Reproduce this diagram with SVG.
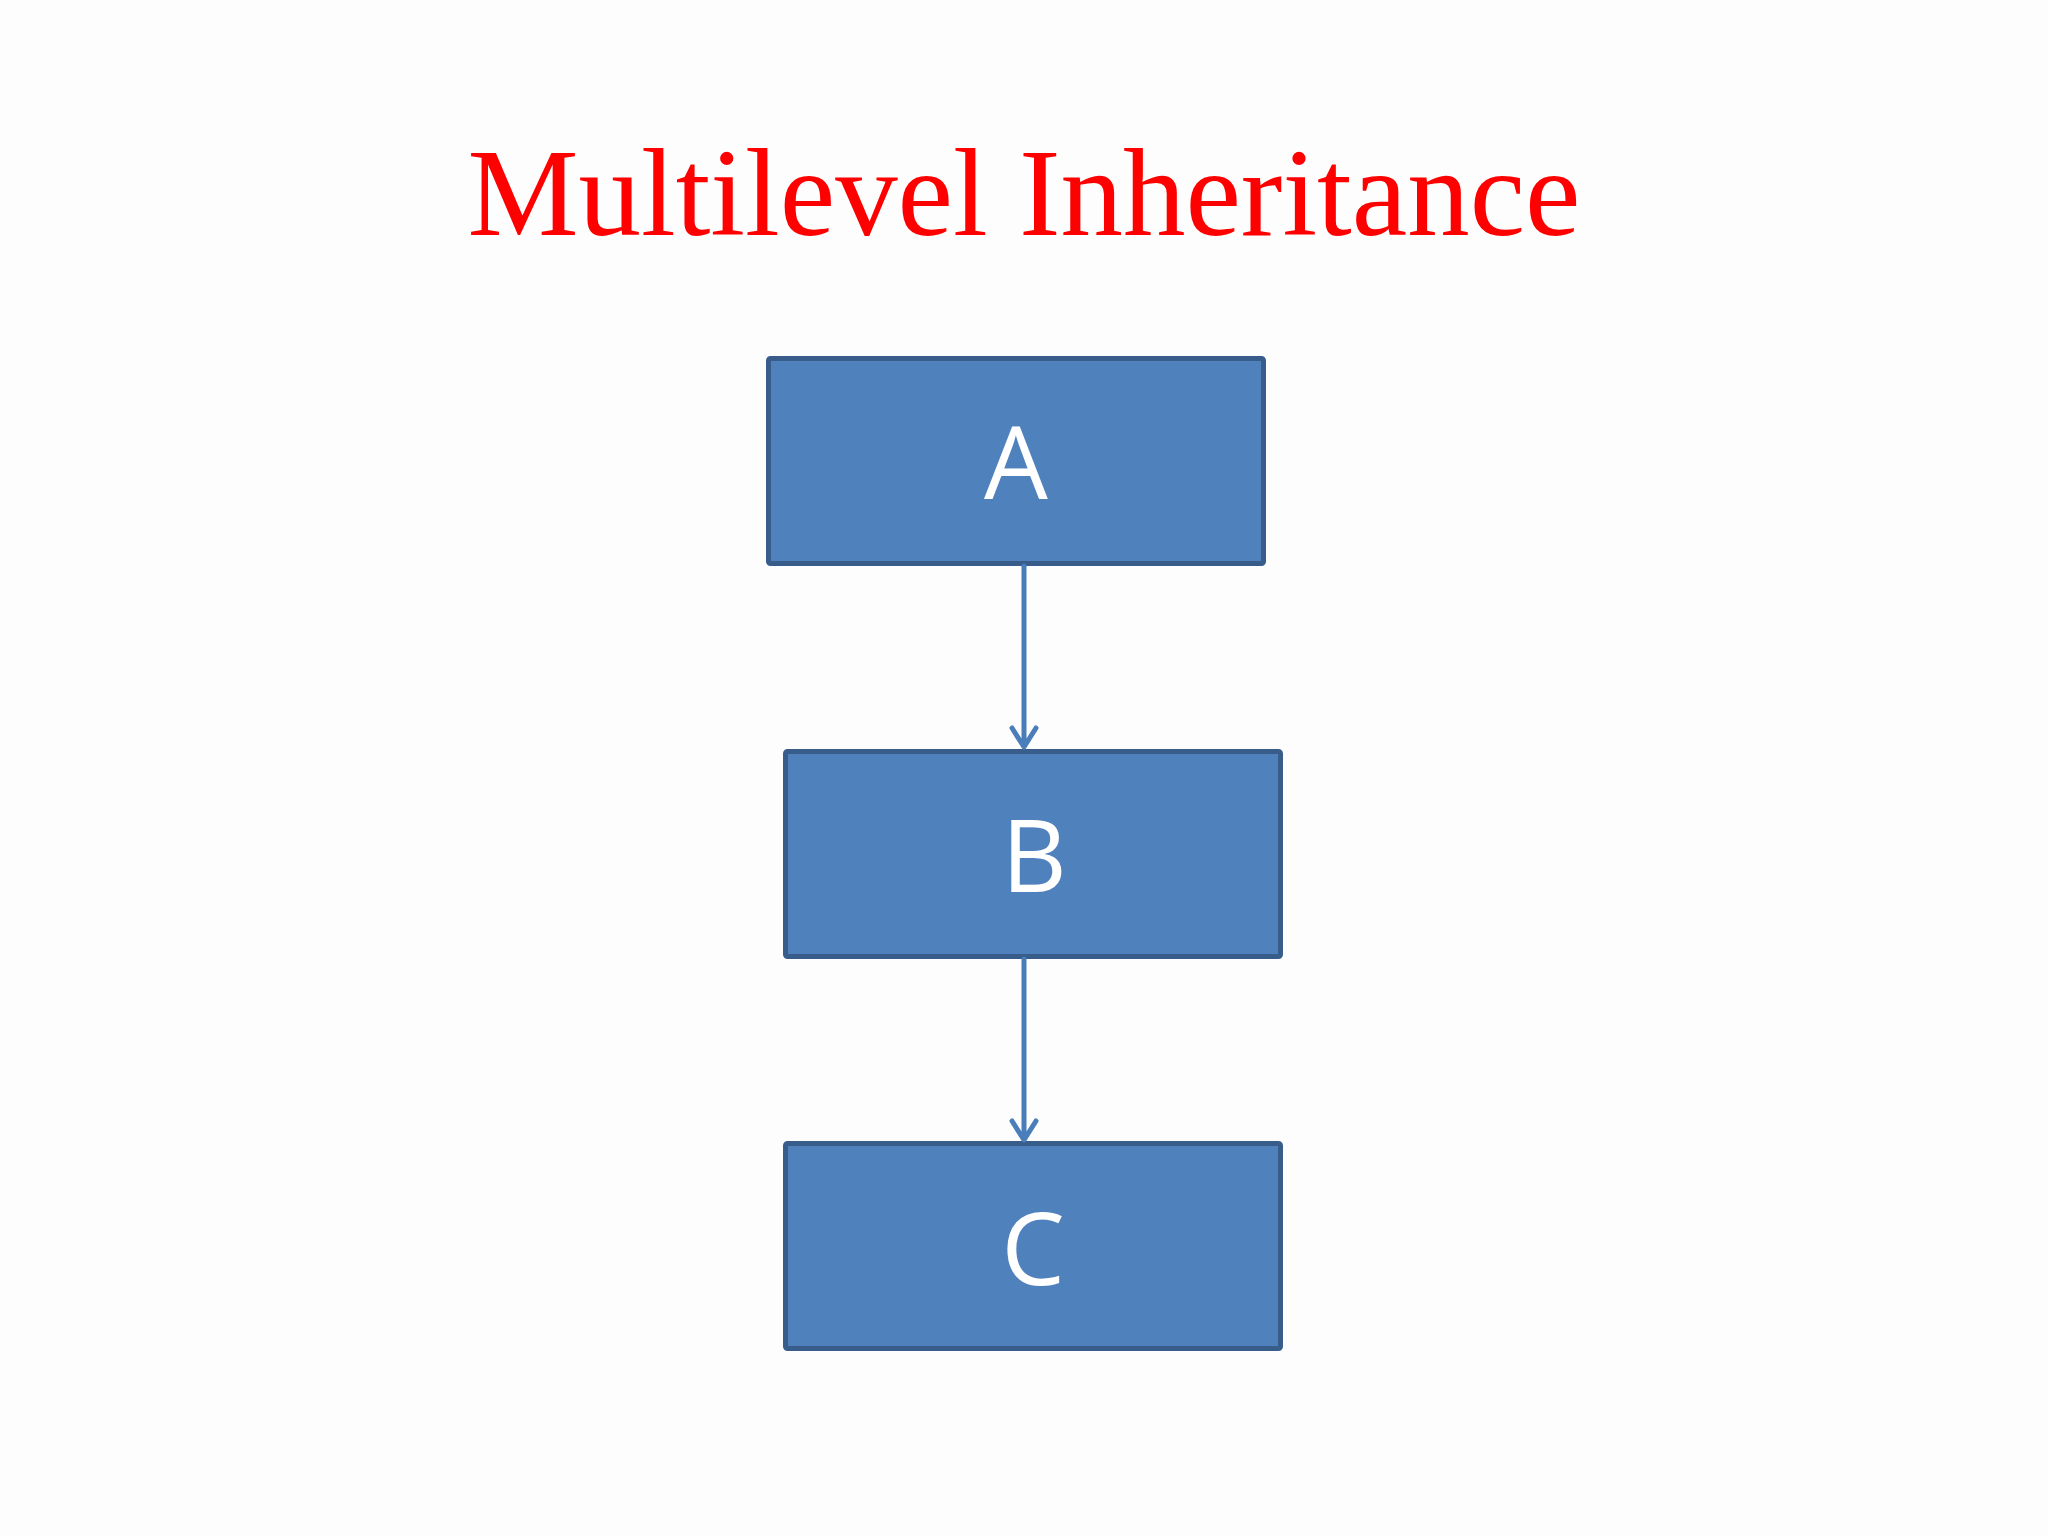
<svg xmlns="http://www.w3.org/2000/svg" width="2048" height="1536" viewBox="0 0 2048 1536">
<style>
.box{fill:#4f81bd;stroke:#385d8a;stroke-width:5}
.lbl{font-family:"Open Sans","Liberation Sans",sans-serif;font-size:101px;fill:#ffffff;text-anchor:middle}
.title{font-family:"Liberation Serif","Times New Roman",serif;font-size:125px;fill:#ff0000;text-anchor:middle}
.conn{stroke:#4a7ebb;stroke-width:5;fill:none;stroke-linecap:round;stroke-linejoin:round}
</style>
<rect width="2048" height="1536" fill="#fdfdfd"/>
<text class="title" x="1024" y="235" textLength="1113" lengthAdjust="spacingAndGlyphs">Multilevel Inheritance</text>
<g id="node-A">
<rect class="box" x="768.500" y="358.500" width="495" height="205" rx="2"/>
<text class="lbl" x="1016" y="499">A</text>
</g>
<g id="node-B">
<rect class="box" x="785.500" y="751.500" width="495" height="205" rx="2"/>
<text class="lbl" x="1034" y="892">B</text>
</g>
<g id="node-C">
<rect class="box" x="785.500" y="1143.500" width="495" height="205" rx="2"/>
<text class="lbl" x="1033" y="1285">C</text>
</g>
<g id="connectors">
<path class="conn" d="M1024 566 V746 M1012 728 L1024 747 L1036 728"/>
<path class="conn" d="M1024 959 V1139 M1012 1121 L1024 1140 L1036 1121"/>
</g>
</svg>
